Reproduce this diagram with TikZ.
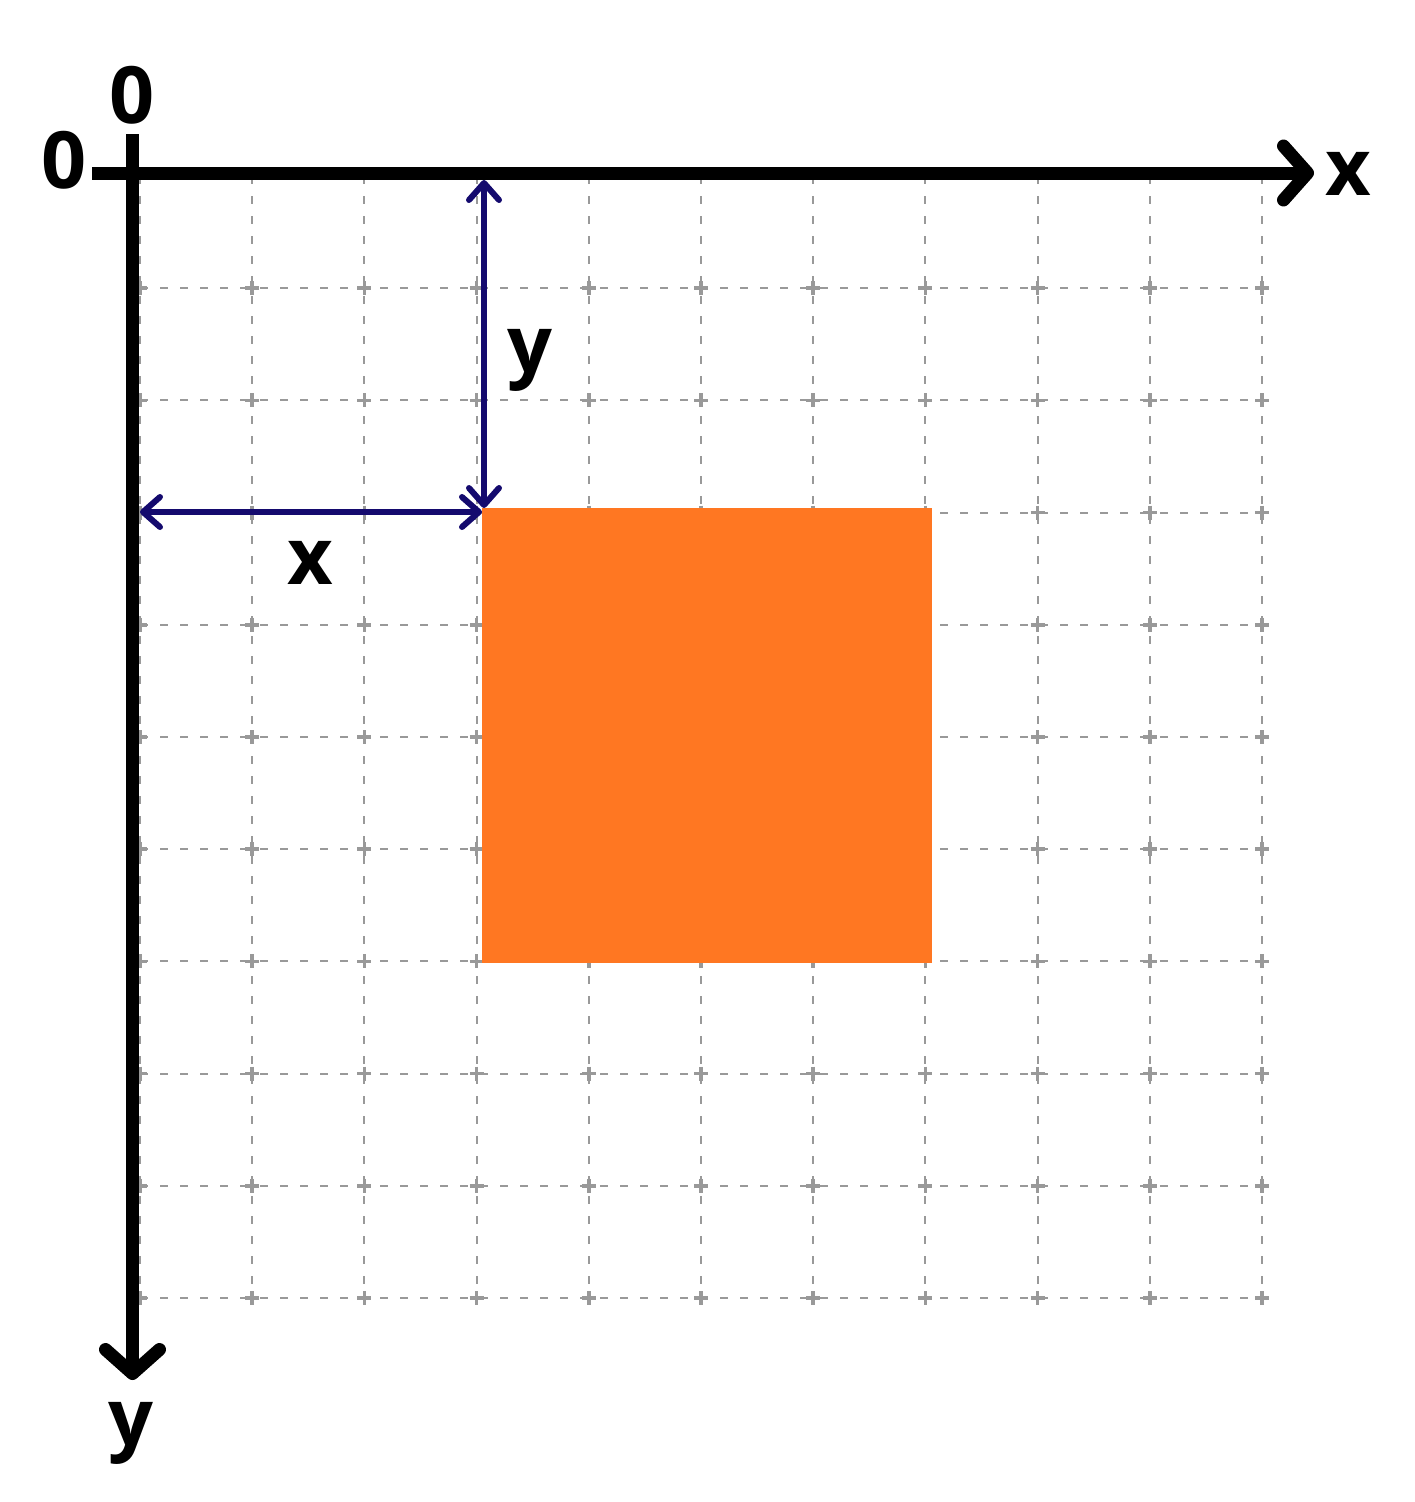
\documentclass[tikz,border=0pt]{standalone}
\usepackage{fontspec}
\setmainfont{Open Sans}
\usetikzlibrary{arrows.meta}
\definecolor{orng}{HTML}{FF7722}
\definecolor{navy}{HTML}{140A6E}
\definecolor{gridgray}{HTML}{999999}
\begin{document}
\begin{tikzpicture}[x=1pt,y=-1pt,
  lbl/.style={font=\fontsize{79}{84}\selectfont\bfseries, inner sep=0pt, anchor=base},
  axisline/.style={line width=13pt, -{Straight Barb[length=24pt,width=54pt,line cap=round,line join=round]}},
  dimline/.style={line width=6pt, draw=navy, {Straight Barb[length=17pt,width=30pt,line cap=round,line join=round]}-{Straight Barb[length=17pt,width=30pt,line cap=round,line join=round]}},
  gridline/.style={draw=gridgray, line width=2pt, dash pattern=on 8pt off 12pt},
  tick/.style={draw=gridgray, line width=3.5pt}]
\useasboundingbox (0,0) rectangle (1414,1502);
% grid
\foreach \i in {0,...,10} {
  \draw[gridline] ({140+112.2*\i},176) -- ({140+112.2*\i},1298);
  \draw[gridline] (140,{176+112.2*\i}) -- (1262,{176+112.2*\i});
}
\foreach \i in {0,...,10} {
  \foreach \j in {1,...,10} {
    \draw[tick] ({140+112.2*\i-7},{176+112.2*\j}) -- ({140+112.2*\i+7},{176+112.2*\j})
                ({140+112.2*\i},{176+112.2*\j-7}) -- ({140+112.2*\i},{176+112.2*\j+7});
  }
}
% orange square
\fill[orng] (482,508) rectangle (932,963);
% axes
\coordinate (xs) at (92,173);
\coordinate (xe) at (1314,173);
\coordinate (ys) at (132.5,134);
\coordinate (ye) at (132.5,1380);
\draw[axisline] (xs) -- (xe);
\draw[axisline] (ys) -- (ye);
% dimension arrows
\coordinate (v1) at (484,180);
\coordinate (v2) at (484,508);
\coordinate (h1) at (140,512);
\coordinate (h2) at (482,512);
\draw[dimline] (v1) -- (v2);
\draw[dimline] (h1) -- (h2);
% labels
\node[lbl] (o1) at (132,123) {0};
\node[lbl] (o2) at (64,188) {0};
\node[lbl] (xlab) at (1348,195) {x};
\node[lbl] (ylab) at (131,1445) {y};
\node[lbl] (dy) at (530,372) {y};
\node[lbl] (dx) at (310,584) {x};
\end{tikzpicture}
\end{document}
